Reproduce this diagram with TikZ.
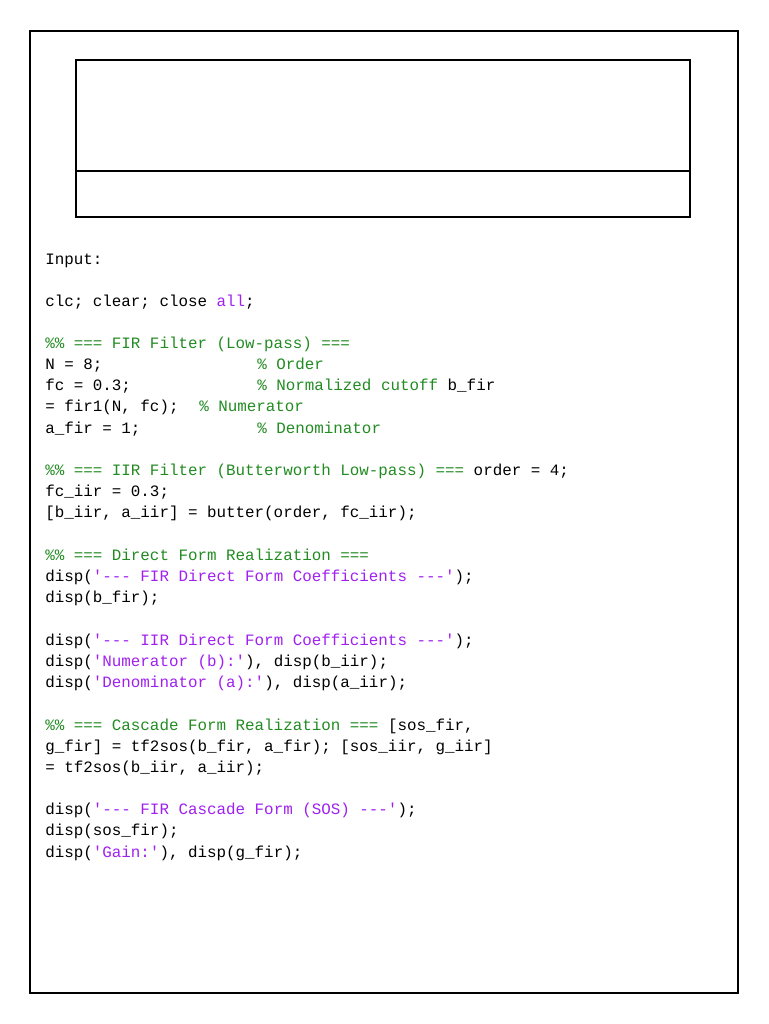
\documentclass[tikz,border=0pt]{standalone}
\usepackage{fontspec}
\setmonofont{Liberation Mono}
\definecolor{cmt}{RGB}{34,139,34}
\definecolor{str}{RGB}{160,32,240}
\newcommand{\cm}[1]{\textcolor{cmt}{#1}}
\newcommand{\st}[1]{\textcolor{str}{#1}}
\begin{document}
\begin{tikzpicture}[x=0.75pt,y=-0.75pt,
  code/.style={anchor=base west,inner sep=0pt,font=\ttfamily\fontsize{11.9}{14}\selectfont}]
\useasboundingbox (0,0) rectangle (768,1024);
\draw[line width=0.8pt] (30,31) rectangle (738,993);
\draw[line width=1.2pt] (76,60) rectangle (690,217);
\draw[line width=1.2pt] (76,171) -- (690,171);
\def\L#1#2#3{\node[code] (#1) at (45,#2+5) {#3};}
\L{l1}{259}{Input:}
\L{l2}{301}{clc; clear; close \st{all};}
\L{l3}{343}{\cm{\%\% === FIR Filter (Low-pass) ===}}
\L{l4}{364}{N = 8;}
\L{l5}{385}{fc = 0.3;}
\L{l6}{406}{= fir1(N, fc);}
\L{l7}{428}{a\_fir = 1;}
\node[code] (c4) at (257,369) {\cm{\% Order}};
\node[code] (c5) at (257,390) {\cm{\% Normalized cutoff} b\_fir};
\node[code] (c6) at (199,411) {\cm{\% Numerator}};
\node[code] (c7) at (257,433) {\cm{\% Denominator}};
\L{l8}{470}{\cm{\%\% === IIR Filter (Butterworth Low-pass) ===} order = 4;}
\L{l9}{491}{fc\_iir = 0.3;}
\L{l10}{512}{[b\_iir, a\_iir] = butter(order, fc\_iir);}
\L{l11}{555}{\cm{\%\% === Direct Form Realization ===}}
\L{l12}{576}{disp(\st{'--- FIR Direct Form Coefficients ---'});}
\L{l13}{597}{disp(b\_fir);}
\L{l14}{640}{disp(\st{'--- IIR Direct Form Coefficients ---'});}
\L{l15}{661}{disp(\st{'Numerator (b):'}), disp(b\_iir);}
\L{l16}{682}{disp(\st{'Denominator (a):'}), disp(a\_iir);}
\L{l17}{725}{\cm{\%\% === Cascade Form Realization ===} [sos\_fir,}
\L{l18}{746}{g\_fir] = tf2sos(b\_fir, a\_fir); [sos\_iir, g\_iir]}
\L{l19}{767}{= tf2sos(b\_iir, a\_iir);}
\L{l20}{809}{disp(\st{'--- FIR Cascade Form (SOS) ---'});}
\L{l21}{830}{disp(sos\_fir);}
\L{l22}{852}{disp(\st{'Gain:'}), disp(g\_fir);}
\end{tikzpicture}
\end{document}
